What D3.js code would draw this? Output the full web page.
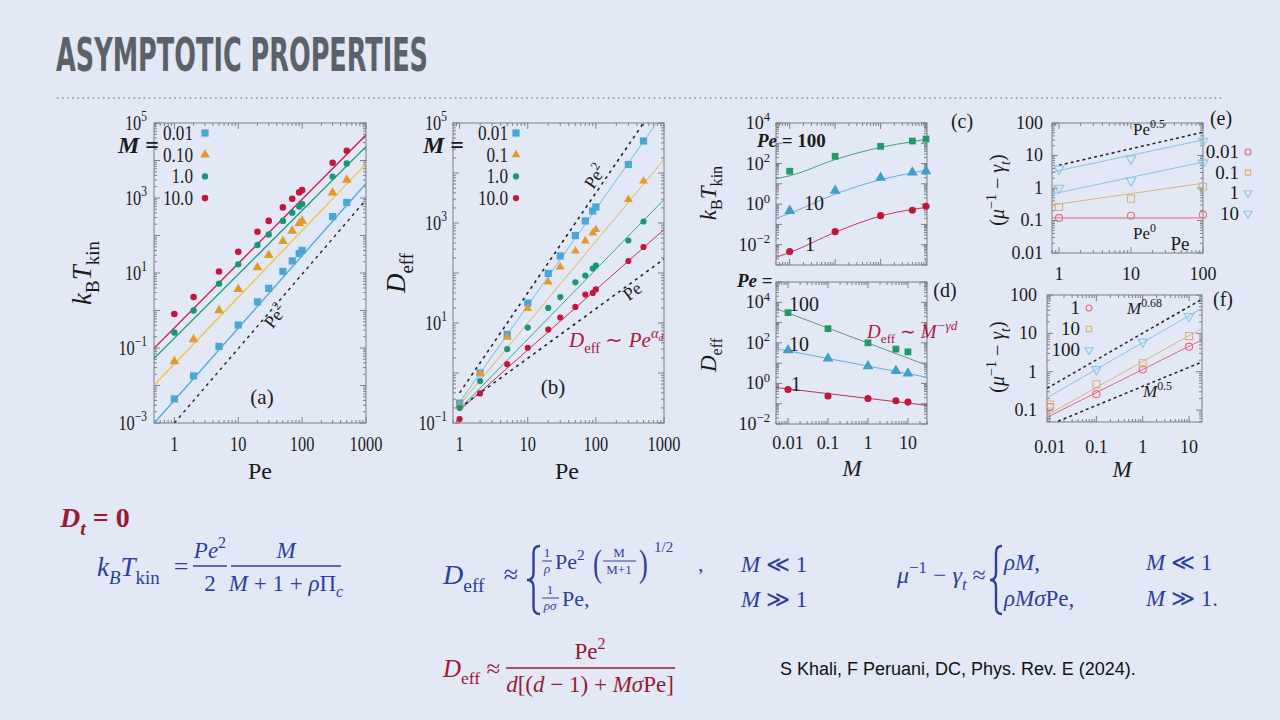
<!DOCTYPE html>
<html><head><meta charset="utf-8">
<script src="https://cdn.jsdelivr.net/npm/d3@7"></script>
<style>body{margin:0;background:#e2e8f6;overflow:hidden}</style>
</head><body><script>
const W = 1280, H = 720
const SERIF = 'Liberation Serif', SANS = 'Liberation Sans'
const BG = '#e2e8f6', INK = '#1a1a1a', AXIS = '#7d7f86'
const EQ_BLUE = '#2f3f9c', EQ_RED = '#9b1a33'
const C_BLUE = '#4aa7d6', C_YEL = '#e39a2c', C_YEL_LINE = '#efc23c', C_GREEN = '#17967a', C_RED = '#c4163c'
const H_RED = '#e6687a', H_YEL = '#d8b27a', H_BLUE = '#86c5e5'

// (a) kB Tkin vs Pe
const PE = [1, 2, 5, 10, 20, 30, 50, 70, 90, 100, 300, 500]
const M_LABELS_AB = ['0.01', '0.10', '1.0', '10.0']
const KT_M001 = [0.0044, 0.018, 0.11, 0.41, 1.7, 3.9, 11, 21, 33, 40, 320, 760]
const KT_M01 = [0.044, 0.17, 1.0, 3.7, 14, 30, 71, 132, 209, 245, 1380, 3020]
const KT_M1 = [0.26, 1.0, 5.2, 17, 56, 107, 245, 407, 589, 692, 3720, 8320]
const KT_M10 = [0.81, 2.3, 11, 37, 126, 245, 562, 955, 1410, 1620, 8710, 18200]
const KT_FIT_PE = [0.48, 1000]
const KT_FIT = [[0.00098, 2450], [0.0102, 8100], [0.052, 23400], [0.098, 48000]]
const KT_GUIDE_PE = [1, 1000], KT_GUIDE = [0.001, 900]

// (b) Deff vs Pe
const M_LABELS_B = ['0.01', '0.1', '1.0', '10.0']
const DE_M001 = [0.25, 1.0, 5.9, 25, 98, 219, 562, 1100, 1740, 2090, 14800, 43700]
const DE_M01 = [0.22, 0.98, 5.2, 19.5, 66, 132, 275, 437, 631, 741, 2950, 6920]
const DE_M1 = [0.20, 0.69, 3.0, 8.1, 20, 33, 65, 89, 123, 141, 447, 1070]
const DE_M10 = [0.12, 0.39, 1.5, 3.2, 7.4, 12.9, 21, 37, 40, 47, 174, 331]
const DE_FIT_PE = [1, 1000]
const DE_FIT = [[0.26, 162000], [0.23, 18600], [0.19, 2950], [0.18, 740]]
const DE_PE2 = [0.4, 400000], DE_PE1 = [0.2, 190]

// (c) kB Tkin vs M
const M_CD = [0.01, 0.1, 1, 5, 10]
const KT_PE100 = [42, 229, 708, 1290, 1620]
const KT_PE10 = [0.47, 4.6, 20, 37, 42]
const KT_PE1 = [0.0046, 0.044, 0.27, 0.50, 0.79]
const KT_CURVE_M = [0.005, 0.01, 0.1, 1, 5, 10]
const KT_CURVE_PE100 = [18, 25, 158, 631, 1200, 1580]
const KT_CURVE_PE10 = [0.20, 0.35, 3.1, 16, 35, 47]
const KT_CURVE_PE1 = [0.0024, 0.0041, 0.041, 0.26, 0.55, 0.69]

// (d) Deff vs M
const DM_PE100 = [3090, 500, 100, 49, 36]
const DM_PE10 = [44, 17, 7.1, 4.2, 3.1]
const DM_PE1 = [0.50, 0.24, 0.18, 0.14, 0.12]
const DM_FIT_M = [0.005, 30]
const DM_FIT = [[4900, 7.9], [52, 2.0], [0.63, 0.083]]

// (e) mu^-1 - gamma_t vs Pe
const PE_E = [1, 10, 100]
const MU_LABELS_E = ['0.01', '0.1', '1', '10']
const MU_M001 = [0.12, 0.14, 0.15]
const MU_M01 = [0.26, 0.47, 1.1]
const MU_M1 = [1.0, 1.7, 5.9]
const MU_M10 = [3.9, 7.9, 28]
const MU_FIT_PE = [0.8, 100]
const MU_FIT_E = [[0.12, 0.12], [0.30, 1.4], [0.65, 6.3], [3.1, 30]]
const MU_GUIDE_PE = [1, 100], MU_PE05 = [5.0, 52]

// (f) mu^-1 - gamma_t vs M
const M_F = [0.01, 0.1, 1, 10]
const MU_LABELS_F = ['1', '10', '100']
const MUF_PE1 = [0.12, 0.26, 1.15, 4.5]
const MUF_PE10 = [0.14, 0.47, 1.66, 8.5]
const MUF_PE100 = [null, 1.15, 6.0, 28]
const MUF_FIT_M = [0.0086, 19]
const MUF_FIT = [[0.065, 6.8], [0.074, 13.5], [0.21, 45]]
const MUF_M068 = [0.37, 78], MUF_M05 = [0.039, 1.8]

const svg = d3.select('body').append('svg').attr('width', W).attr('height', H)
const defs = svg.append('defs')
svg.append('rect').attr('width', W).attr('height', H).attr('fill', BG)

// tiny markup: *italic*, _{sub}, ^{sup}
function parse(s) {
  const out = []; let i = 0, ital = false, buf = ''
  const push = (t, mode) => {
    if (!t) return
    let it = ital
    if (mode && t.length > 1 && t[0] === '*' && t[t.length - 1] === '*') { t = t.slice(1, -1); it = true }
    out.push({ t, i: it, sub: mode === '_', sup: mode === '^' })
  }
  while (i < s.length) {
    const c = s[i]
    if (c === '*') { push(buf); buf = ''; ital = !ital; i++ }
    else if ((c === '_' || c === '^') && s[i + 1] === '{') { push(buf); buf = ''; const j = s.indexOf('}', i); push(s.slice(i + 2, j), c); i = j + 1 }
    else { buf += c; i++ }
  }
  push(buf)
  return out
}
function rich(sel, parts, fs) {
  let off = 0
  parts.forEach(p => {
    const target = p.sub ? fs * 0.28 : p.sup ? -fs * 0.42 : 0
    const ts = sel.append('tspan').text(p.t).attr('dy', target - off)
    off = target
    if (p.sub || p.sup) ts.attr('font-size', fs * 0.7)
    if (p.i) ts.attr('font-style', 'italic')
  })
}
function label(parent, x, y, str, o = {}) {
  const fs = o.fs || 18, sx = o.sx || 1
  const t = parent.append('text')
    .attr('transform', `translate(${x},${y})${o.rot ? ` rotate(${o.rot})` : ''} scale(${sx},1)`)
    .attr('text-anchor', o.anchor || 'start').attr('font-size', fs)
    .attr('fill', o.fill || INK).attr('font-family', o.font || SERIF)
  if (o.weight) t.attr('font-weight', o.weight)
  rich(t, parse(str), fs)
  return t
}
const pow = v => { const e = Math.round(Math.log10(v)); return '10^{' + String(e).replace('-', '−') + '}' }

function panel(id, l, r, t, b, xd, yd) {
  const x = d3.scaleLog().domain(xd).range([l, r])
  const y = d3.scaleLog().domain(yd).range([b, t])
  defs.append('clipPath').attr('id', 'c' + id).append('rect')
    .attr('x', l).attr('y', t).attr('width', r - l).attr('height', b - t)
  const g = svg.append('g')
  const ax = g.append('g').attr('stroke', AXIS).attr('stroke-width', 1)
  const ticks = d => {
    const out = []
    for (let e = Math.floor(Math.log10(d[0])); e <= Math.ceil(Math.log10(d[1])); e++)
      for (let m = 1; m < 10; m++) { const v = m * Math.pow(10, e); if (v >= d[0] * 0.999 && v <= d[1] * 1.001) out.push({ v, major: m === 1 }) }
    return out
  }
  ticks(xd).forEach(k => {
    const L = k.major ? 6 : 3, p = x(k.v)
    ax.append('line').attr('x1', p).attr('x2', p).attr('y1', b).attr('y2', b - L)
    ax.append('line').attr('x1', p).attr('x2', p).attr('y1', t).attr('y2', t + L)
  })
  ticks(yd).forEach(k => {
    const L = k.major ? 6 : 3, p = y(k.v)
    ax.append('line').attr('y1', p).attr('y2', p).attr('x1', l).attr('x2', l + L)
    ax.append('line').attr('y1', p).attr('y2', p).attr('x1', r).attr('x2', r - L)
  })
  ax.append('rect').attr('x', l).attr('y', t).attr('width', r - l).attr('height', b - t).attr('fill', 'none')
  const plot = g.append('g').attr('clip-path', `url(#c${id})`)
  return { g, plot, x, y, l, r, t, b }
}
function xLabels(P, vals, base, fs, sx, fmt) {
  vals.forEach(v => label(P.g, P.x(v), base, fmt ? fmt(v) : String(v), { fs, sx, anchor: 'middle' }))
}
function yLabels(P, vals, xr, fs, sx, fmt) {
  vals.forEach(v => label(P.g, xr, P.y(v) + fs * 0.33, fmt ? fmt(v) : String(v), { fs, sx, anchor: 'end' }))
}
function line(P, xs, ys, color, o = {}) {
  const gen = d3.line().x(d => P.x(d[0])).y(d => P.y(d[1]))
  if (o.curve) gen.curve(d3.curveMonotoneX)
  P.plot.append('path').datum(xs.map((v, i) => [v, ys[i]]))
    .attr('d', gen).attr('fill', 'none').attr('stroke', color)
    .attr('stroke-width', o.w || 1.2).attr('stroke-dasharray', o.dash || null)
}
function marks(P, xs, ys, shape, color, size, o = {}) {
  P.g.append('g').selectAll('path').data(xs.map((v, i) => [v, ys[i]]).filter(d => d[1] != null)).join('path')
    .attr('d', d3.symbol().type(shape).size(size))
    .attr('transform', d => `translate(${P.x(d[0])},${P.y(d[1])})${o.down ? ' rotate(180)' : ''}`)
    .attr('fill', o.hollow ? 'none' : color).attr('stroke', o.hollow ? color : 'none').attr('stroke-width', 1.1)
}
function legendMark(g, cx, cy, shape, color, size, o = {}) {
  g.append('path').attr('d', d3.symbol().type(shape).size(size)())
    .attr('transform', `translate(${cx},${cy})${o.down ? ' rotate(180)' : ''}`)
    .attr('fill', o.hollow ? 'none' : color).attr('stroke', o.hollow ? color : 'none').attr('stroke-width', 1.1)
}
function brace(x, y0, y1, w, color) {
  const m = (y0 + y1) / 2, h = 7, c = x + w / 2
  svg.append('path').attr('d',
    `M${x + w},${y0} Q${c},${y0} ${c},${y0 + h} L${c},${m - h} Q${c},${m} ${x},${m} Q${c},${m} ${c},${m + h} L${c},${y1 - h} Q${c},${y1} ${x + w},${y1}`)
    .attr('fill', 'none').attr('stroke', color).attr('stroke-width', 2.4)
}
function bar(x1, x2, y, color, w = 1.3) {
  svg.append('line').attr('x1', x1).attr('x2', x2).attr('y1', y).attr('y2', y).attr('stroke', color).attr('stroke-width', w)
}

// title + dotted rule
svg.append('text').attr('x', 56).attr('y', 71).text('ASYMPTOTIC PROPERTIES')
  .attr('font-family', 'DejaVu Sans Condensed').attr('font-weight', 'bold').attr('font-size', 47)
  .attr('textLength', 372).attr('lengthAdjust', 'spacingAndGlyphs').attr('fill', '#5b6169')
svg.append('line').attr('x1', 57).attr('x2', 1225).attr('y1', 98).attr('y2', 98)
  .attr('stroke', '#9aa1ad').attr('stroke-width', 2).attr('stroke-dasharray', '1.5 3.6')

const SQ = d3.symbolSquare, TRI = d3.symbolTriangle, CIR = d3.symbolCircle

// ---- (a)
const A = panel('a', 154, 366, 123, 423, [0.48, 1000], [1e-3, 1e5])
const seriesA = [[KT_M001, C_BLUE, SQ, 52], [KT_M01, C_YEL, TRI, 42], [KT_M1, C_GREEN, CIR, 32], [KT_M10, C_RED, CIR, 34]]
const lineColA = [C_BLUE, C_YEL_LINE, C_GREEN, C_RED]
KT_FIT.forEach((f, i) => line(A, KT_FIT_PE, f, lineColA[i], { w: 1.3 }))
line(A, KT_GUIDE_PE, KT_GUIDE, '#222', { dash: '3 4', w: 1.4 })
seriesA.forEach(s => marks(A, PE, s[0], s[2], s[1], s[3]))
yLabels(A, [1e-3, 1e-1, 10, 1e3, 1e5], 147, 21, 0.78, pow)
xLabels(A, [1, 10, 100, 1000], 451, 21, 0.78)
label(A.g, 260, 479, 'Pe', { fs: 24, anchor: 'middle' })
label(A.g, 91, 273, '*k*_{B}*T*_{kin}', { fs: 27, anchor: 'middle', rot: -90 })
label(A.g, 118, 153, '*M* =', { fs: 24, weight: 'bold' })
M_LABELS_AB.forEach((m, i) => {
  const cy = 133 + i * 21.7
  label(A.g, 193, cy + 7, m, { fs: 21, sx: 0.82, anchor: 'end' })
  legendMark(A.g, 205, cy, seriesA[i][2], seriesA[i][1], seriesA[i][3])
})
label(A.g, 280, 320, 'Pe^{2}', { fs: 18, anchor: 'middle', rot: -52 })
label(A.g, 262, 404, '(a)', { fs: 21, anchor: 'middle' })

// ---- (b)
const B = panel('b', 453, 664, 123, 423, [0.8, 1000], [0.1, 1e5])
const seriesB = [[DE_M001, C_BLUE, SQ, 52], [DE_M01, C_YEL, TRI, 34], [DE_M1, C_GREEN, CIR, 30], [DE_M10, C_RED, CIR, 30]]
const lineColB = ['#6fbbe0', '#e6b24a', '#3aa58a', '#cc3057']
DE_FIT.forEach((f, i) => line(B, DE_FIT_PE, f, lineColB[i], { w: 1 }))
line(B, DE_FIT_PE, DE_PE2, '#222', { dash: '3 4', w: 1.6 })
line(B, DE_FIT_PE, DE_PE1, '#222', { dash: '3 4', w: 1.6 })
seriesB.forEach(s => marks(B, PE, s[0], s[2], s[1], s[3]))
yLabels(B, [0.1, 10, 1e3, 1e5], 447, 21, 0.78, pow)
xLabels(B, [1, 10, 100, 1000], 451, 21, 0.78)
label(B.g, 567, 479, 'Pe', { fs: 24, anchor: 'middle' })
label(B.g, 405, 273, '*D*_{eff}', { fs: 27, anchor: 'middle', rot: -90 })
label(B.g, 423, 153, '*M* =', { fs: 24, weight: 'bold' })
M_LABELS_B.forEach((m, i) => {
  const cy = 133 + i * 21.7
  label(B.g, 508, cy + 7, m, { fs: 21, sx: 0.82, anchor: 'end' })
  legendMark(B.g, 516, cy, seriesB[i][2], seriesB[i][1], seriesB[i][3])
})
label(B.g, 600, 180, 'Pe^{2}', { fs: 18, anchor: 'middle', rot: -56 })
label(B.g, 636, 296, 'Pe', { fs: 18, anchor: 'middle', rot: -37 })
const bl = label(B.g, 569, 347, '*D*_{eff} ∼ *Pe*^{*α*}', { fs: 21, fill: '#b0173f' })
bl.append('tspan').text('d').attr('font-size', 10).attr('font-style', 'italic').attr('dy', 3)
label(B.g, 553, 394, '(b)', { fs: 21, anchor: 'middle' })

// ---- (c)
const Cp = panel('c', 776, 927, 123, 265, [0.005, 10.5], [1e-3, 1e4])
line(Cp, KT_CURVE_M, KT_CURVE_PE100, '#3aa67e', { curve: true, w: 1 })
line(Cp, KT_CURVE_M, KT_CURVE_PE10, '#5fb3d8', { curve: true, w: 1 })
line(Cp, KT_CURVE_M, KT_CURVE_PE1, '#cf3558', { curve: true, w: 1 })
marks(Cp, M_CD, KT_PE100, SQ, '#1f9a6a', 46)
marks(Cp, M_CD, KT_PE10, TRI, '#3e9fc8', 50)
marks(Cp, M_CD, KT_PE1, CIR, '#c0163a', 40)
yLabels(Cp, [1e-2, 1, 1e2, 1e4], 770, 18, 1, pow)
label(Cp.g, 716, 193, '*k*_{B}*T*_{kin}', { fs: 23, anchor: 'middle', rot: -90 })
label(Cp.g, 757, 147, '*Pe* = 100', { fs: 19, weight: 'bold' })
label(Cp.g, 804, 210, '10', { fs: 20 })
label(Cp.g, 805, 251, '1', { fs: 20 })
label(Cp.g, 962, 128, '(c)', { fs: 20, anchor: 'middle' })

// ---- (d)
const D = panel('d', 776, 927, 282, 424, [0.005, 30], [1e-2, 1e5])
line(D, DM_FIT_M, DM_FIT[0], '#6e8f86', { w: 1 })
line(D, DM_FIT_M, DM_FIT[1], '#6aaed0', { w: 1 })
line(D, DM_FIT_M, DM_FIT[2], '#b2394f', { w: 1 })
marks(D, M_CD, DM_PE100, SQ, '#1f9a6a', 46)
marks(D, M_CD, DM_PE10, TRI, '#3e9fc8', 50)
marks(D, M_CD, DM_PE1, CIR, '#c0163a', 40)
yLabels(D, [1e-2, 1, 1e2, 1e4], 770, 18, 1, pow)
xLabels(D, [0.01, 0.1, 1, 10], 449, 18, 1)
label(D.g, 852, 476, '*M*', { fs: 23, anchor: 'middle' })
label(D.g, 716, 355, '*D*_{eff}', { fs: 23, anchor: 'middle', rot: -90 })
label(D.g, 737, 287, '*Pe* =', { fs: 19, weight: 'bold' })
label(D.g, 789, 311, '100', { fs: 20 })
label(D.g, 789, 351, '10', { fs: 20 })
label(D.g, 791, 391, '1', { fs: 20 })
label(D.g, 867, 338, '*D*_{eff} ∼ *M*^{*−γd*}', { fs: 19, fill: '#b0173f' })
label(D.g, 945, 297, '(d)', { fs: 20, anchor: 'middle' })

// ---- (e)
const E = panel('e', 1052, 1203, 123, 253, [0.8, 100], [0.01, 100])
const colE = [H_RED, H_YEL, H_BLUE, H_BLUE]
MU_FIT_E.forEach((f, i) => line(E, MU_FIT_PE, f, colE[i], { w: 1 }))
line(E, MU_GUIDE_PE, MU_PE05, '#222', { dash: '3 3', w: 1.5 })
const seriesE = [[MU_M001, CIR, 40, false], [MU_M01, SQ, 50, false], [MU_M1, TRI, 40, true], [MU_M10, TRI, 40, true]]
seriesE.forEach((s, i) => marks(E, PE_E, s[0], s[1], colE[i], s[2], { hollow: true, down: s[3] }))
yLabels(E, [0.01, 0.1, 1, 10, 100], 1043, 18, 1)
xLabels(E, [1, 10, 100], 280, 18, 1)
label(E.g, 1180, 250, 'Pe', { fs: 19, anchor: 'middle' })
label(E.g, 1004, 190, '(*μ*^{−1} − *γ*_{*t*})', { fs: 20, anchor: 'middle', rot: -90 })
label(E.g, 1133, 135, 'Pe^{0.5}', { fs: 17 })
label(E.g, 1133, 239, 'Pe^{0}', { fs: 17 })
label(E.g, 1221, 125, '(e)', { fs: 20, anchor: 'middle' })
MU_LABELS_E.forEach((m, i) => {
  const cy = 152 + i * 20.5
  label(E.g, 1239, cy + 6, m, { fs: 19, anchor: 'end' })
  legendMark(E.g, 1248, cy, seriesE[i][1], colE[i], 28, { hollow: true, down: seriesE[i][3] })
})

// ---- (f)
const F = panel('f', 1047, 1202, 295, 422, [0.0086, 19], [0.049, 100])
const colF = [H_RED, H_YEL, H_BLUE]
MUF_FIT.forEach((f, i) => line(F, MUF_FIT_M, f, colF[i], { w: 1 }))
line(F, MUF_FIT_M, MUF_M068, '#222', { dash: '3 3', w: 1.5 })
line(F, MUF_FIT_M, MUF_M05, '#222', { dash: '3 3', w: 1.5 })
const seriesF = [[MUF_PE1, CIR, 40, false], [MUF_PE10, SQ, 50, false], [MUF_PE100, TRI, 40, true]]
seriesF.forEach((s, i) => marks(F, M_F, s[0], s[1], colF[i], s[2], { hollow: true, down: s[3] }))
yLabels(F, [0.1, 1, 10, 100], 1037, 18, 1)
xLabels(F, [0.01, 0.1, 1, 10], 453, 18, 1)
label(F.g, 1122, 477, '*M*', { fs: 23, anchor: 'middle' })
label(F.g, 1004, 357, '(*μ*^{−1} − *γ*_{*t*})', { fs: 20, anchor: 'middle', rot: -90 })
label(F.g, 1127, 314, '*M*^{0.68}', { fs: 17 })
label(F.g, 1143, 397, '*M*^{0.5}', { fs: 17 })
label(F.g, 1223, 306, '(f)', { fs: 20, anchor: 'middle' })
MU_LABELS_F.forEach((m, i) => {
  const cy = 308 + i * 21
  label(F.g, 1080, cy + 6, m, { fs: 19, anchor: 'end' })
  legendMark(F.g, 1089, cy, seriesF[i][1], colF[i], 28, { hollow: true, down: seriesF[i][3] })
})

// ---- equations
label(svg, 60, 527, '*D*_{*t*} = 0', { fs: 28, fill: EQ_RED, weight: 'bold' })

label(svg, 97, 576, '*k*_{*B*}*T*_{kin}', { fs: 27, fill: EQ_BLUE })
label(svg, 181, 575, '=', { fs: 26, fill: EQ_BLUE, anchor: 'middle' })
label(svg, 210, 558, '*Pe*^{2}', { fs: 23, fill: EQ_BLUE, anchor: 'middle' })
bar(193, 227, 566, EQ_BLUE)
label(svg, 210, 591, '2', { fs: 23, fill: EQ_BLUE, anchor: 'middle' })
label(svg, 286, 558, '*M*', { fs: 23, fill: EQ_BLUE, anchor: 'middle' })
bar(231, 341, 566, EQ_BLUE)
label(svg, 286, 591, '*M* + 1 + *ρ*Π_{*c*}', { fs: 23, fill: EQ_BLUE, anchor: 'middle' })

label(svg, 443, 584, '*D*_{eff}', { fs: 28, fill: EQ_BLUE })
label(svg, 511, 583, '≈', { fs: 26, fill: EQ_BLUE, anchor: 'middle' })
brace(527, 546, 614, 13, EQ_BLUE)
label(svg, 547, 557, '1', { fs: 13, fill: EQ_BLUE, anchor: 'middle' })
bar(542, 552, 561, EQ_BLUE, 1)
label(svg, 547, 573, '*ρ*', { fs: 13, fill: EQ_BLUE, anchor: 'middle' })
label(svg, 555, 569, 'Pe^{2}', { fs: 22, fill: EQ_BLUE })
label(svg, 593, 576, '(', { fs: 38, fill: EQ_BLUE, sx: 0.7 })
label(svg, 619, 557, 'M', { fs: 13, fill: EQ_BLUE, anchor: 'middle' })
bar(603, 636, 561, EQ_BLUE, 1)
label(svg, 619, 574, 'M+1', { fs: 13, fill: EQ_BLUE, anchor: 'middle' })
label(svg, 639, 576, ')', { fs: 38, fill: EQ_BLUE, sx: 0.7 })
label(svg, 654, 552, '1/2', { fs: 15, fill: EQ_BLUE })
label(svg, 698, 571, ',', { fs: 22, fill: EQ_BLUE })
label(svg, 741, 572, '*M* ≪ 1', { fs: 23, fill: EQ_BLUE })
label(svg, 550, 594, '1', { fs: 13, fill: EQ_BLUE, anchor: 'middle' })
bar(542, 559, 598, EQ_BLUE, 1)
label(svg, 550, 610, '*ρσ*', { fs: 13, fill: EQ_BLUE, anchor: 'middle' })
label(svg, 562, 606, 'Pe,', { fs: 22, fill: EQ_BLUE })
label(svg, 741, 607, '*M* ≫ 1', { fs: 23, fill: EQ_BLUE })

label(svg, 897, 583, '*μ*^{−1} − *γ*_{*t*} ≈', { fs: 24, fill: EQ_BLUE })
brace(990, 546, 614, 12, EQ_BLUE)
label(svg, 1004, 570, '*ρM*,', { fs: 23, fill: EQ_BLUE })
label(svg, 1146, 570, '*M* ≪ 1', { fs: 23, fill: EQ_BLUE })
label(svg, 1004, 606, '*ρMσ*Pe,', { fs: 23, fill: EQ_BLUE })
label(svg, 1146, 606, '*M* ≫ 1.', { fs: 23, fill: EQ_BLUE })

label(svg, 443, 677, '*D*_{eff} ≈', { fs: 25, fill: EQ_RED })
label(svg, 590, 659, 'Pe^{2}', { fs: 23, fill: EQ_RED, anchor: 'middle' })
bar(506, 675, 668, EQ_RED)
label(svg, 590, 692, '*d*[(*d* − 1) + *Mσ*Pe]', { fs: 23, fill: EQ_RED, anchor: 'middle' })

label(svg, 780, 675, 'S Khali, F Peruani, DC, Phys. Rev. E (2024).', { fs: 18, font: SANS, fill: '#111' })
</script></body></html>
